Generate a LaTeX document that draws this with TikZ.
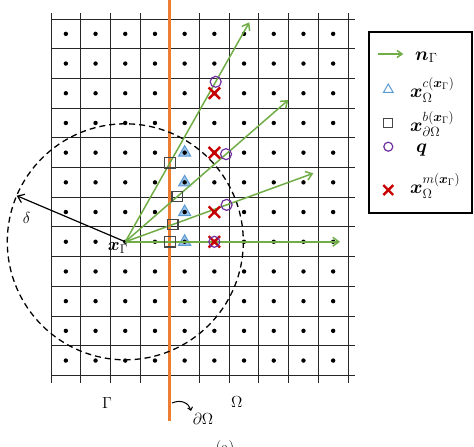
\RequirePackage{fix-cm}
\documentclass[tikz,border=0pt]{standalone}
\usepackage{amsmath,bm}
\usetikzlibrary{calc,arrows.meta,shapes.geometric,shapes.misc}
\definecolor{orng}{RGB}{237,125,49}
\definecolor{grn}{RGB}{112,173,71}
\definecolor{triblue}{RGB}{91,155,213}
\definecolor{trifill}{RGB}{157,195,230}
\definecolor{sqgray}{RGB}{70,70,70}
\definecolor{purp}{RGB}{112,48,160}
\definecolor{crossred}{RGB}{200,0,0}
\tikzset{
  gridline/.style={black!85, line width=1pt},
  cdot/.style={circle, fill=black, inner sep=0pt, minimum size=4.4pt},
  tri/.style={regular polygon, regular polygon sides=3, draw=triblue, fill=trifill, minimum size=14pt, inner sep=0pt, line width=1pt},
  sq/.style={rectangle, draw=sqgray, minimum size=10.5pt, inner sep=0pt, line width=1.3pt},
  circ/.style={circle, draw=purp, minimum size=11pt, inner sep=0pt, line width=1.2pt},
  crs/.style={cross out, draw=crossred, minimum size=9pt, inner sep=0pt, line width=2.4pt},
  garrow/.style={grn, line width=1.5pt, -{Straight Barb[length=6pt,width=9pt]}},
  lbl/.style={inner sep=0pt, anchor=base west, font=\fontsize{19}{21}\selectfont},
}
\begin{document}
\begin{tikzpicture}[x=1pt,y=-1pt, font=\fontsize{16}{18}\selectfont]
\useasboundingbox (0,0) rectangle (474,447);
% grid
\foreach \i in {0,...,10} \draw[gridline] ({51+29.7*\i},13) -- ({51+29.7*\i},383);
\foreach \j in {0,...,12} \draw[gridline] (51,{19+29.7*\j}) -- (355,{19+29.7*\j});
% boundary
\draw[orng, line width=3pt] (169.8,0) -- (169.8,421);
% key points
\coordinate (xg) at (125.3,241.8);
\coordinate (e1) at (249.3,22.3);
\coordinate (e2) at (288.3,100);
\coordinate (e3) at (313.3,173.3);
\coordinate (e4) at (340,241.8);
\coordinate (dtip) at ($(xg)+(-108.6,-46.1)$);
% triangles (centroid points)
\foreach \j in {4,5,6,7} \node[tri] (t\j) at (184.65,{19+29.7*(\j+0.5)}) {};
% dots
\foreach \i in {0,...,9} \foreach \j in {0,...,11} \node[cdot] at ({51+29.7*(\i+0.5)},{19+29.7*(\j+0.5)}) {};
% support circle
\draw[dash pattern=on 6pt off 4pt, line width=1.3pt] (xg) circle (118);
% normals
\draw[garrow] (xg) -- (e1);
\draw[garrow] (xg) -- (e2);
\draw[garrow] (xg) -- (e3);
\draw[garrow] (xg) -- (e4);
% delta
\draw[line width=1.2pt, -{Straight Barb[length=6pt,width=9pt]}] (xg) -- (dtip);
\node (delta) at (26.7,218) {$\delta$};
\node[font=\fontsize{18}{20}\selectfont] (xglab) at (118,248) {$\bm{x}_\Gamma$};
% squares
\node[sq] (s1) at ($(xg)!0.36!(e1)$) {};
\node[sq] (s2) at ($(xg)!0.319!(e2)$) {};
\node[sq] (s3) at ($(xg)!0.252!(e3)$) {};
\node[sq] (s4) at ($(xg)!0.208!(e4)$) {};
% crosses
\node[crs] (m1) at (214.35,93.2) {};
\node[crs] (m2) at (214.35,152.7) {};
\node[crs] (m3) at (214.35,212.1) {};
\node[crs] (m4) at (214.35,241.8) {};
% q points
\node[circ] (q1) at ($(xg)!0.729!(e1)$) {};
\node[circ] (q2) at ($(xg)!0.618!(e2)$) {};
\node[circ] (q3) at ($(xg)!0.539!(e3)$) {};
\node[circ] (q4) at (214.35,241.8) {};
% labels
\node (gam) at (107,403) {$\Gamma$};
\node (om) at (236.7,402) {$\Omega$};
\node (dom) at (203,419) {$\partial\Omega$};
\coordinate (ca) at (172,403);
\coordinate (cb) at (191,411);
\draw[line width=1pt, -{Straight Barb[length=3pt,width=5pt]}] (ca) .. controls (181,399) and (189,403) .. (cb);
\node (cap) at (225,449) {(a)};
% legend
\draw[line width=1.8pt] (369.3,32.3) rectangle (471.7,213.3);
\coordinate (la) at (378.3,54);
\coordinate (lb) at (403.3,54);
\draw[grn, line width=1.5pt, -{Straight Barb[length=5pt,width=7pt]}] (la) -- (lb);
\node[lbl] (ln) at (415,60) {$\bm{n}_\Gamma$};
\node[tri, fill=none, minimum size=11pt] (lt) at (388.3,89.5) {};
\node[lbl] (lc) at (410,97) {$\bm{x}_\Omega^{c(\bm{x}_\Gamma)}$};
\node[sq, minimum size=9pt] (ls) at (388.3,123.3) {};
\node[lbl] (lbb) at (410,131) {$\bm{x}_{\partial\Omega}^{b(\bm{x}_\Gamma)}$};
\node[circ, minimum size=9pt] (lq) at (388.3,146.7) {};
\node[lbl] (lql) at (416,152) {$\bm{q}$};
\node[crs, minimum size=7.5pt] (lm) at (388.3,190) {};
\node[lbl] (lml) at (410,193) {$\bm{x}_\Omega^{m(\bm{x}_\Gamma)}$};
\end{tikzpicture}
\end{document}
